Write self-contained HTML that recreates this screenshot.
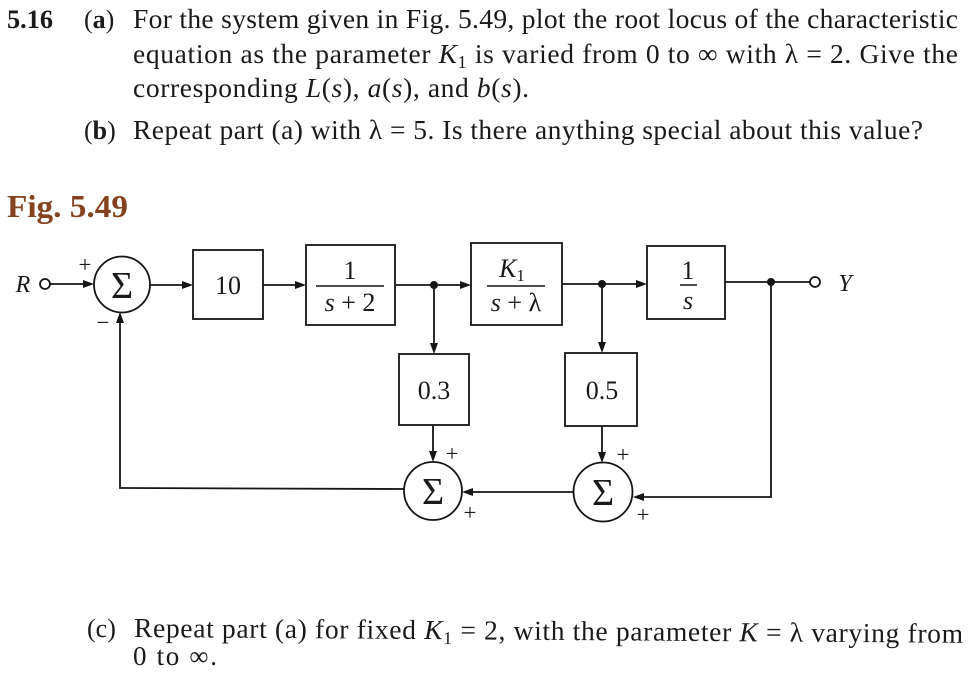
<!DOCTYPE html>
<html><head><meta charset="utf-8"><style>
html,body{margin:0;padding:0;background:#fff;width:969px;height:675px;overflow:hidden}
svg{display:block}
text{font-family:"Liberation Serif",serif;fill:#1a1a1a}
.it{font-style:italic}
.b{font-weight:bold}
</style></head><body>
<svg width="969" height="675" viewBox="0 0 969 675" xmlns="http://www.w3.org/2000/svg">
<!-- Problem text -->
<text x="7" y="28" font-size="26" class="b" textLength="46" lengthAdjust="spacingAndGlyphs">5.16</text>
<text x="84" y="28" font-size="26">(<tspan class="b">a</tspan>)</text>
<text x="133" y="28" font-size="27.5" textLength="825" lengthAdjust="spacing">For the system given in Fig. 5.49, plot the root locus of the characteristic</text>
<text x="133" y="63" font-size="27.5" textLength="825" lengthAdjust="spacing">equation as the parameter <tspan class="it">K</tspan><tspan font-size="18" dy="5">1</tspan><tspan dy="-5"> is varied from 0 to ∞ with λ = 2. Give the</tspan></text>
<text x="133" y="97" font-size="27.5" textLength="396" lengthAdjust="spacing">corresponding <tspan class="it">L</tspan>(<tspan class="it">s</tspan>), <tspan class="it">a</tspan>(<tspan class="it">s</tspan>), and <tspan class="it">b</tspan>(<tspan class="it">s</tspan>).</text>
<text x="84" y="139" font-size="26">(<tspan class="b">b</tspan>)</text>
<text x="133" y="139" font-size="27.5" textLength="790" lengthAdjust="spacing">Repeat part (a) with λ = 5. Is there anything special about this value?</text>

<text x="7" y="217" font-size="32" class="b" style="fill:#85421f" textLength="121" lengthAdjust="spacingAndGlyphs">Fig. 5.49</text>

<!-- Diagram -->
<g stroke="#151515" stroke-width="1.8" fill="none">
  <rect x="193" y="250" width="70" height="69"/>
  <rect x="306" y="245" width="89" height="80"/>
  <rect x="471" y="243" width="91" height="82"/>
  <rect x="647" y="246" width="78" height="73"/>
  <rect x="399" y="354" width="70" height="71"/>
  <rect x="565" y="353" width="72" height="73"/>
  <circle cx="122" cy="284.5" r="28"/>
  <circle cx="433" cy="491" r="29"/>
  <circle cx="603" cy="492" r="29.5"/>
  <circle cx="45" cy="284" r="5"/>
  <circle cx="815" cy="282" r="5"/>
  <line x1="50" y1="284" x2="90" y2="284"/>
  <line x1="150" y1="285" x2="189" y2="285"/>
  <line x1="263" y1="285" x2="302" y2="285"/>
  <line x1="395" y1="285" x2="467" y2="285"/>
  <line x1="434" y1="285" x2="434" y2="350"/>
  <line x1="433" y1="425" x2="433" y2="458"/>
  <polyline points="404,489 120,488 120,318"/>
  <line x1="562" y1="284" x2="643" y2="284"/>
  <line x1="602" y1="284" x2="602" y2="349"/>
  <line x1="602" y1="426" x2="602" y2="459"/>
  <line x1="573" y1="492" x2="467" y2="492"/>
  <line x1="725" y1="282" x2="810" y2="282"/>
  <polyline points="771,282 771,497 638,497"/>
</g>
<g fill="#151515">
  <polygon points="94,284 83,280 83,288"/>
  <polygon points="193,285 182,281 182,289"/>
  <polygon points="306,285 295,281 295,289"/>
  <polygon points="471,285 460,281 460,289"/>
  <polygon points="434,354 430,343 438,343"/>
  <polygon points="433,462 429,451 437,451"/>
  <polygon points="120,312 116,323 124,323"/>
  <polygon points="647,284 636,280 636,288"/>
  <polygon points="602,353 598,342 606,342"/>
  <polygon points="602,463 598,452 606,452"/>
  <polygon points="462,492 473,488 473,496"/>
  <polygon points="633,497 644,493 644,501"/>
  <circle cx="434" cy="285" r="4"/>
  <circle cx="602" cy="284" r="4"/>
  <circle cx="771" cy="282" r="4"/>
</g>

<!-- labels -->
<text x="23" y="292" font-size="24" class="it" text-anchor="middle">R</text>
<text x="845" y="291" font-size="24" class="it" text-anchor="middle">Y</text>

<text x="122" y="298" font-size="38" text-anchor="middle">Σ</text>
<text x="433" y="504" font-size="38" text-anchor="middle">Σ</text>
<text x="603" y="505" font-size="38" text-anchor="middle">Σ</text>

<text x="228" y="294" font-size="26" text-anchor="middle">10</text>
<text x="434" y="399" font-size="26" text-anchor="middle">0.3</text>
<text x="602" y="399" font-size="26" text-anchor="middle">0.5</text>

<text x="350" y="279" font-size="26" text-anchor="middle">1</text>
<line x1="316" y1="286" x2="384" y2="286" stroke="#151515" stroke-width="1.5"/>
<text x="350" y="311" font-size="26" text-anchor="middle"><tspan class="it">s</tspan> + 2</text>

<text x="512" y="277" font-size="26" text-anchor="middle"><tspan class="it">K</tspan><tspan font-size="17" dy="4">1</tspan></text>
<line x1="487" y1="286" x2="545" y2="286" stroke="#151515" stroke-width="1.5"/>
<text x="516" y="311" font-size="26" text-anchor="middle"><tspan class="it">s</tspan> + λ</text>

<text x="688" y="279" font-size="26" text-anchor="middle">1</text>
<line x1="680" y1="285" x2="697" y2="285" stroke="#151515" stroke-width="1.5"/>
<text x="688" y="309" font-size="26" text-anchor="middle" class="it">s</text>

<!-- signs -->
<text x="85" y="272" font-size="23" text-anchor="middle">+</text>
<text x="103" y="330" font-size="23" text-anchor="middle">−</text>
<text x="452" y="461" font-size="23" text-anchor="middle">+</text>
<text x="470" y="520" font-size="23" text-anchor="middle">+</text>
<text x="623" y="462" font-size="23" text-anchor="middle">+</text>
<text x="643" y="522" font-size="23" text-anchor="middle">+</text>

<!-- bottom text -->
<text x="87" y="637" font-size="26">(c)</text>
<g transform="rotate(0.4 134 637)">
<text x="134" y="637" font-size="27.5" textLength="829" lengthAdjust="spacing">Repeat part (a) for fixed <tspan class="it">K</tspan><tspan font-size="18" dy="5">1</tspan><tspan dy="-5"> = 2, with the parameter </tspan><tspan class="it">K</tspan> = λ varying from</text>
</g>
<text x="133" y="665" font-size="27" textLength="84" lengthAdjust="spacing">0 to ∞.</text>
</svg>
</body></html>
